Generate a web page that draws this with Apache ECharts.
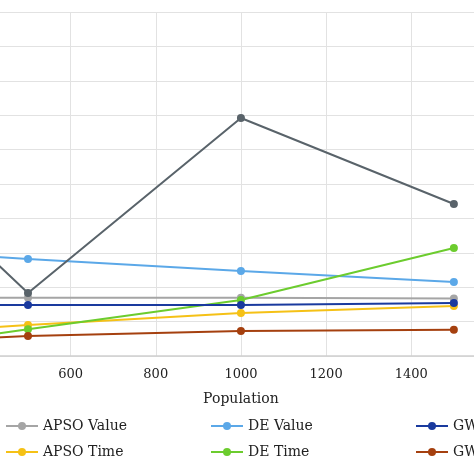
<!DOCTYPE html>
<html><head><meta charset="utf-8">
<script src="https://cdn.jsdelivr.net/npm/echarts@6/dist/echarts.min.js"></script>
<style>html,body{margin:0;padding:0;background:#fff;overflow:hidden;width:474px;height:474px}#c{width:546px;height:474px;margin-left:-30px}</style>
</head><body><div id="c"></div>
<script>
const populations = [400, 500, 1000, 1500];
const apsoValue = [1.69, 1.69, 1.69, 1.67];
const deValue = [2.9, 2.82, 2.47, 2.15];
const gwoValue = [1.48, 1.48, 1.48, 1.54];
const apsoTime = [0.82, 0.9, 1.25, 1.45];
const deTime = [0.6, 0.78, 1.63, 3.14];
const gwoTime = [0.52, 0.58, 0.73, 0.76];
const psoValue = [3.0, 1.83, 6.92, 4.42];
const xTicks = [400, 600, 800, 1000, 1200, 1400, 1600];

const F = 'DejaVu Serif';
function s(name, data, color, z) {
  return {name, type:'line', data: populations.map((p,i)=>[p,data[i]]), color,
    symbol:'circle', symbolSize:8, lineStyle:{width:2, color}, itemStyle:{color}, z: z||2};
}
const series = [
  s('APSO Value', apsoValue, '#a5a5a5'),
  s('DE Value', deValue, '#5ba8e8'),
  s('GWO Value', gwoValue, '#1a3a9e', 3),
  s('APSO Time', apsoTime, '#f5c116'),
  s('DE Time', deTime, '#6ccc2e'),
  s('GWO Time', gwoTime, '#a5400f'),
  s('PSO Value', psoValue, '#59636a')
];
const lg = (x, names) => ({left:x, top:414, orient:'vertical', itemGap:12, itemWidth:32, itemHeight:10,
  data:names, textStyle:{fontFamily:F, fontSize:14, color:'#222'}, selectedMode:false});
const chart = echarts.init(document.getElementById('c'));
chart.setOption({
  animation:false,
  grid:{left:0, right:0, top:12, bottom:118, containLabel:false},
  xAxis:{type:'value', min:xTicks[0], max:xTicks[xTicks.length-1], interval:200,
    name:'Population', nameLocation:'middle', nameGap:36,
    nameTextStyle:{fontFamily:F, fontSize:14, color:'#222'},
    axisLine:{lineStyle:{color:'#d0d0d0', width:1.5}}, axisTick:{show:false},
    axisLabel:{fontFamily:F, fontSize:13, color:'#222', margin:12, formatter:v=>String(v)},
    splitLine:{lineStyle:{color:'#e2e2e2'}}},
  yAxis:{type:'value', min:0, max:10, interval:1, axisLabel:{show:false},
    axisLine:{show:false}, axisTick:{show:false}, splitLine:{lineStyle:{color:'#e2e2e2'}}},
  legend:[lg(30,['APSO Value','APSO Time']), lg(235,['DE Value','DE Time']), lg(440,['GWO Value','GWO Time'])],
  series
});
</script></body></html>
